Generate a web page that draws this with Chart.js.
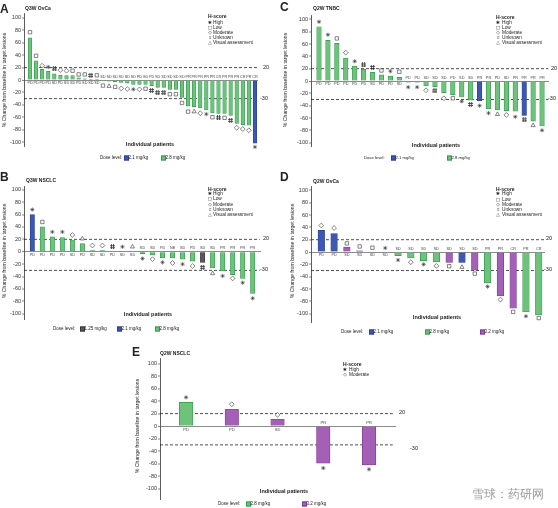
<!DOCTYPE html>
<html><head><meta charset="utf-8">
<script src="https://cdn.jsdelivr.net/npm/chart.js@4/dist/chart.umd.min.js"></script>
<style>
html,body{margin:0;padding:0;background:#fff;}
#wrap{position:relative;width:558px;height:508px;overflow:hidden;font-family:"Liberation Sans",Arial,sans-serif;color:#222;}
#wrap canvas{position:absolute;left:0;top:0;}
.t{position:absolute;white-space:nowrap;line-height:1;}
.sym{font-family:"DejaVu Sans",sans-serif;}
.sw{position:absolute;width:3px;height:3px;transform:translate(0,-50%);}
</style></head><body><div id="wrap"></div>
<script>
// ---------- shared ----------
const tickValues = [-100,-80,-60,-40,-20,0,20,40,60,80,100];
const refLines = [20,-30];
const doseNames = ['1.25 mg/kg','2.1 mg/kg','2.8 mg/kg','3.2 mg/kg'];
const hscoreNames = ['High','Low','Moderate','Unknown','Visual assessment'];

// ---------- Panel A: Q3W OvCa ----------
const aResponse = ['PD','PD','PD','PD','SD','PD','SD','SD','PD','SD','SD','SD','SD','SD','SD','SD','SD','SD','PD','SD','PD','SD','SD','SD','SD','SD','PR','PR','PR','PR','PR','CR','PR','PR','PR','CR','PR','CR'];
const aValues = [68,31,17,14,10,8,7,7,3.5,2,0.5,0.3,-1,-2,-3,-4,-5,-7,-7,-7,-9,-12,-12,-15,-15,-28,-42,-43,-45,-48,-53,-54,-54,-57,-70,-72,-73,-102];
const aMarkers = [77,39,23,21,18,16,15,15,9,9,7.5,7.5,-9,-10,-11,-13.5,-14.5,-15,-15,-14,-17,-20.5,-20.5,-23,-23,-37,-51,-51,-53.5,-55,-60,-61,-61,-65,-77,-79,-81,-108];
const aHscore = ['L','L','M','H','U','M','M','L','L','L','U','L','L','T','L','M','M','H','M','L','U','U','U','L','L','L','L','T','M','H','L','U','L','U','M','M','M','H'];
const aDose = ['2.8','2.8','2.8','2.8','2.8','2.8','2.8','2.8','2.8','2.8','2.8','2.8','2.8','2.8','2.8','2.8','2.8','2.8','2.8','2.8','2.8','2.8','2.8','2.8','2.8','2.8','2.8','2.8','2.8','2.8','2.8','2.8','2.8','2.8','2.8','2.8','2.8','2.1'];

// ---------- Panel B: Q3W NSCLC ----------
const bResponse = ['PD','PD','PD','PD','SD','PD','SD','SD','PD','SD','SD','SD','SD','PD','NE','SD','PD','SD','SD','PR','PR','PR','PR'];
const bValues = [60,40,24,23,19,13,2,2,0.4,0.3,0.3,-3,-5,-10,-10,-12,-15,-17,-26,-31,-37,-43,-67];
const bMarkers = [68,48,32,32,27,21,10,10,8,8,8,-11,-12,-17,-18,-20,-23,-25,-35,-39,-43,-50,-75];
const bHscore = ['H','L','H','H','M','T','M','M','U','H','T','H','M','H','M','H','M','U','T','H','M','H','H'];
const bDose = ['2.1','2.8','2.8','2.8','2.8','2.8','2.8','2.8','2.8','2.8','2.8','2.8','2.8','2.8','2.8','2.8','2.8','1.25','2.8','2.8','2.8','2.8','2.8'];

// ---------- Panel C: Q2W TNBC ----------
const cResponse = ['PD','PD','PD','PD','PD','PD','SD','PD','PD','SD','PD','PD','SD','SD','SD','PD','SD','SD','PR','PR','PD','SD','PR','PR','PR','PR'];
const cValues = [88,66,61,37,24,19,14,10,8,6,-2,-2,-8,-9,-19,-22,-26,-31,-32,-45,-47,-48,-49,-56,-65,-73];
const cMarkers = [96,75,69,46,32,26,22,17,16,15,-10,-10,-15,-16,-28,-28,-33,-38,-40,-52,-54,-55,-58,-63,-72,-80];
const cHscore = ['H','H','L','M','H','U','U','L','H','L','H','H','M','U','M','L','H','U','H','H','T','M','H','U','T','H'];
const cDose = ['2.8','2.8','2.8','2.8','2.8','2.8','2.8','2.8','2.8','2.8','2.8','2.8','2.8','2.8','2.8','2.8','2.8','2.8','2.1','2.8','2.8','2.8','2.8','2.1','2.8','2.8'];

// ---------- Panel D: Q2W OvCa ----------
const dResponse = ['PD','PD','SD','SD','SD','SD','SD','SD','SD','SD','SD','SD','SD','PR','PR','CR','PR','CR'];
const dValues = [35,30,8,2,0,0,-6,-9.5,-14,-16,-17,-17,-29.5,-50,-71,-91,-97,-102];
const dMarkers = [43,39,14,9,7,6.5,-13,-16.5,-20,-22.5,-23,-24.5,-35,-56,-77,-97,-104,-107];
const dHscore = ['M','M','L','L','L','H','H','M','H','M','L','T','L','H','M','L','H','L'];
const dDose = ['2.1','2.1','3.2','3.2','3.2','3.2','2.8','2.8','2.8','2.8','3.2','2.1','3.2','2.8','3.2','3.2','2.8','2.8'];

// ---------- Panel E: Q2W NSCLC ----------
const eResponse = ['PD','PD','SD','PR','PR'];
const eValues = [38,27,11,-59,-62];
const eMarkers = [46,35,18,-67,-69];
const eHscore = ['H','M','M','H','H'];
const eDose = ['2.8','3.2','3.2','3.2','3.2'];

// ---------- styling ----------
const FONT = '"Liberation Sans", Arial, sans-serif';
const doseFill = {'1.25':'#5a5a5a','2.1':'#3c58b2','2.8':'#6fc27b','3.2':'#a45fb7'};
const doseEdge = {'1.25':'#333333','2.1':'#2a4192','2.8':'#2e9b49','3.2':'#7c3c91'};
const hashC = document.createElement('canvas');
hashC.width = 5; hashC.height = 5;
(function(){const h=hashC.getContext('2d');h.strokeStyle='#333';h.lineWidth=0.8;h.beginPath();
 h.moveTo(1.5,0);h.lineTo(1.5,5);h.moveTo(3.5,0);h.lineTo(3.5,5);h.moveTo(0,1.5);h.lineTo(5,1.5);h.moveTo(0,3.5);h.lineTo(5,3.5);h.stroke();})();
const styleMap = {H:'star',L:'rect',M:'rectRot',U:hashC,T:'triangle'};
const radMap = {H:2.1,L:2.4,M:2.4,U:2.5,T:2.4};
const symMap = {H:'✱',L:'□',M:'◇',U:'⌗',T:'△'};

const wrap = document.getElementById('wrap');
function addText(x,y,s,o){
  o=o||{};
  const d=document.createElement('div'); d.className='t'+(o.sym?' sym':''); d.textContent=s;
  d.style.left=x+'px'; d.style.top=y+'px'; d.style.fontSize=(o.size||5)+'px';
  if(o.bold) d.style.fontWeight='bold';
  if(o.color) d.style.color=o.color;
  const tx=o.align==='center'?'-50%':(o.align==='right'?'-100%':'0');
  d.style.transform='translate('+tx+',-50%)'+(o.rot?' rotate('+o.rot+'deg)':'');
  wrap.appendChild(d);
}
function addSwatch(x,y,dose){
  const s=document.createElement('div'); s.className='sw';
  s.style.left=x+'px'; s.style.top=y+'px';
  s.style.background=doseFill[dose]; s.style.border='0.5px solid '+doseEdge[dose];
  wrap.appendChild(s);
}

const responsePlugin = {
  id:'respLabels',
  afterDatasetsDraw(chart){
    const cfg = chart.config.options.plugins.respLabels;
    const ctx = chart.ctx, xs = chart.scales.x, ys = chart.scales.y;
    const y0 = ys.getPixelForValue(0);
    ctx.save();
    ctx.font = cfg.size + 'px ' + FONT;
    ctx.fillStyle = '#444'; ctx.textAlign='center'; ctx.textBaseline='middle';
    cfg.labels.forEach((lab,i)=>{
      const v = cfg.values[i];
      const x = xs.getPixelForValue(i+1);
      ctx.fillText(lab, x, v>=0 ? y0+3.4 : y0-3.4);
    });
    ctx.restore();
  }
};

function makeChart(p){
  const cv=document.createElement('canvas'); cv.width=558; cv.height=508;
  cv.style.width='558px'; cv.style.height='508px';
  wrap.appendChild(cv);
  const YW=22;
  const datasets=[
    {type:'scatter', data:p.markers.map((v,i)=>({x:i+1,y:v})),
     pointStyle:p.hscore.map(h=>styleMap[h]), pointRadius:p.hscore.map(h=>radMap[h]),
     pointBorderColor:'#333', pointBackgroundColor:p.hscore.map(h=>h==='H'?'#333':'#ffffff'),
     pointBorderWidth:0.6, order:0, clip:false},
    {type:'bar', data:p.values.map((v,i)=>({x:i+1,y:v})),
     backgroundColor:p.dose.map(d=>doseFill[d]), borderColor:p.dose.map(d=>doseEdge[d]),
     borderWidth:0.7, barThickness:p.bw, order:1, clip:false},
  ].concat(refLines.map(r=>({type:'line', data:[{x:p.xmin,y:r},{x:p.lineEnd,y:r}],
     borderColor:'#222', borderWidth:0.8, borderDash:[3,2], pointRadius:0, order:2, clip:false})));
  new Chart(cv,{
    type:'bar',
    data:{datasets},
    plugins:[responsePlugin],
    options:{
      responsive:false, animation:false, events:[],
      layout:{padding:{left:p.l-YW, right:558-p.r, top:p.t, bottom:508-p.b}},
      plugins:{legend:{display:false}, tooltip:{enabled:false}, title:{display:false},
        respLabels:{labels:p.resp, values:p.values, size:p.ls||3.8}},
      scales:{
        x:{type:'linear', display:false, offset:false, grid:{offset:false}, min:p.xmin, max:p.xmax},
        y:{type:'linear', min:p.ymin, max:p.ymax,
           afterBuildTicks:s=>{s.ticks=tickValues.map(v=>({value:v}));},
           afterFit:s=>{s.width=YW; s.paddingTop=0; s.paddingBottom=0;},
           ticks:{font:{size:5.5,family:FONT}, color:'#333', padding:1, autoSkip:false},
           grid:{drawOnChartArea:true, drawTicks:true, tickLength:2, tickWidth:0.6, tickColor:'#333',
                 color:c=>(c.tick&&c.tick.value===0)?'#8c8c8c':'rgba(0,0,0,0)',
                 lineWidth:c=>(c.tick&&c.tick.value===0)?1:0},
           border:{display:true, color:'#333', width:0.8}}
      }
    }
  });
}

function panelText(p){
  addText(p.letter[0],p.letter[1],p.letter[2],{size:12,bold:true});
  addText(p.sub[0],p.sub[1],p.sub[2],{size:5,bold:true});
  addText(p.yt[0],p.yt[1],'% Change from baseline in target lesions',{size:5.2,align:'center',rot:-90});
  addText(p.r20[0],p.r20[1],String(refLines[0]),{size:5.5});
  addText(p.r30[0],p.r30[1],String(refLines[1]),{size:5.5});
  addText(p.xt[0],p.xt[1],'Individual patients',{size:5.5,bold:true,align:'center'});
  addText(p.hl[0],p.hl[1],'H-score',{size:5,bold:true});
  p.hkeys.forEach((k,i)=>{
    const y=p.hl[2][i];
    addText(p.hl[3],y,symMap[k],{size:4.6,sym:true,align:'center'});
    addText(p.hl[4],y,hscoreNames['HLMUT'.indexOf(k)],{size:4.8});
  });
  const ds=p.dsize||4.5;
  addText(p.dl[0],p.dl[1],'Dose level:',{size:ds});
  p.dl[2].forEach(e=>{ addSwatch(e[0],p.dl[1],e[1]); addText(e[0]+4.5,p.dl[1],doseNames[['1.25','2.1','2.8','3.2'].indexOf(e[1])],{size:ds}); });
}

// Panel A
makeChart({values:aValues,markers:aMarkers,hscore:aHscore,dose:aDose,resp:aResponse,
  l:24,r:258,t:13,b:147,ymin:-108,ymax:108,xmin:0.01,xmax:38.5,lineEnd:38.5,bw:3.6});
panelText({letter:[0,9,'A'],sub:[25,8,'Q3W OvCa'],yt:[5,80],r20:[263,68],r30:[260,99],xt:[150,145],
  hl:[208,16,[23,28,33,38,43],210,213],hkeys:['H','L','M','U','T'],
  dl:[100,158,[[124,'2.1'],[161,'2.8']]]});

// Panel B
makeChart({values:bValues,markers:bMarkers,hscore:bHscore,dose:bDose,resp:bResponse,
  l:24,r:261,t:186,b:320,ymin:-110,ymax:106,xmin:0.17,xmax:23.83,lineEnd:23.7,bw:4.4});
panelText({letter:[0,177,'B'],sub:[26,180,'Q3W NSCLC'],yt:[5,251],r20:[263,239],r30:[260,270],xt:[148,315],
  hl:[208,189,[194,199.3,204.7,210,215.3],210,213],hkeys:['H','L','M','U','T'],
  dl:[53,329,[[80,'1.25'],[117,'2.1'],[155,'2.8']]]});

// Panel C
makeChart({values:cValues,markers:cMarkers,hscore:cHscore,dose:cDose,resp:cResponse,
  l:311,r:549,t:15,b:147,ymin:-107,ymax:107,xmin:0.103,xmax:26.78,lineEnd:26.7,bw:4.6});
panelText({letter:[280,7,'C'],sub:[313,8,'Q2W TNBC'],yt:[286,80],r20:[551,69],r30:[548,99],xt:[436,146],
  hl:[496,17,[23,28,33,38,43],498,502],hkeys:['H','L','M','U','T'],
  dl:[364,158,[[391,'2.1'],[447,'2.8']]], dsize:4.2});

// Panel D
makeChart({values:dValues,markers:dMarkers,hscore:dHscore,dose:dDose,resp:dResponse,
  l:311,r:545,t:186,b:323,ymin:-115,ymax:107,xmin:0.195,xmax:18.49,lineEnd:18.49,bw:6.6});
panelText({letter:[280,177,'D'],sub:[313,181,'Q2W OvCa'],yt:[293,251],r20:[546,239],r30:[544,270],xt:[437,318],
  hl:[496,189,[194.3,199.7,205,210.3,215.3],498,502],hkeys:['H','L','M','U','T'],
  dl:[341,332,[[369,'2.1'],[425,'2.8'],[480,'3.2']]]});

// Panel E
makeChart({values:eValues,markers:eMarkers,hscore:eHscore,dose:eDose,resp:eResponse,
  l:160,r:396,t:358.5,b:500,ymin:-118,ymax:108,xmin:0.43,xmax:5.59,lineEnd:5.52,bw:13.5,ls:4});
panelText({letter:[132,352,'E'],sub:[160,353,'Q2W NSCLC'],yt:[138,426],r20:[399,413],r30:[410,449],xt:[284,492],
  hl:[343,364,[369.5,375],345,349],hkeys:['H','M'],
  dl:[218,504,[[246,'2.8'],[302,'3.2']]]});

// watermark
addText(472,494,'雪球：药研网',{size:12,color:'#9a9a9a'});
</script>
</body></html>
